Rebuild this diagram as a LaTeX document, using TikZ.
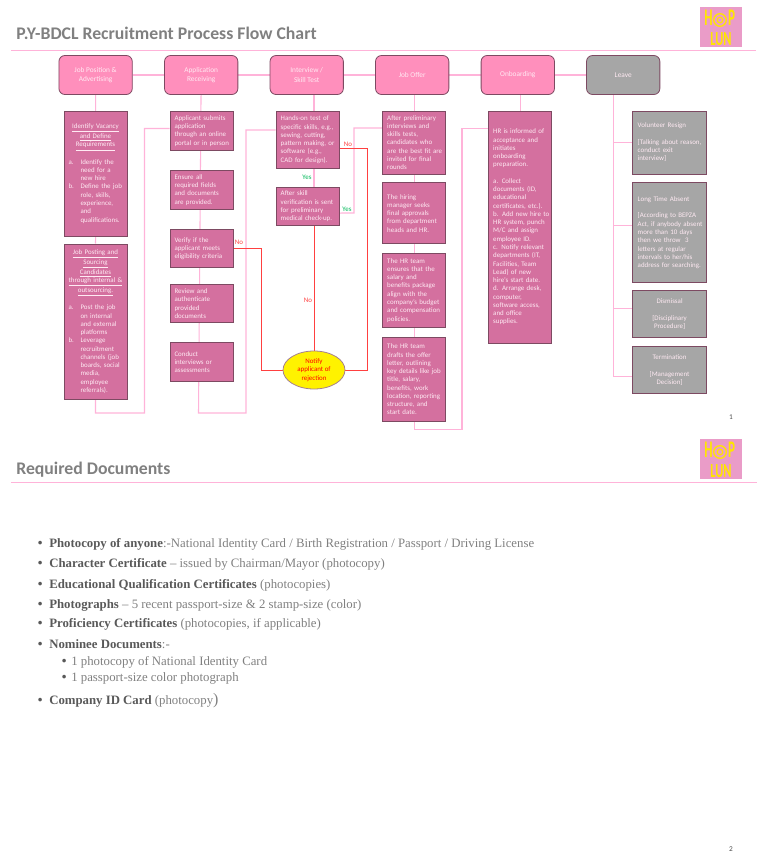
\documentclass[tikz,border=0pt]{standalone}
\usepackage{fontspec}
\setmainfont{Carlito}
\newfontfamily\listfont{Liberation Serif}
\usetikzlibrary{backgrounds,shapes.geometric}
\definecolor{headpink}{HTML}{FF8FBC}
\definecolor{steppink}{HTML}{D4709F}
\definecolor{edgeplum}{HTML}{7D4A62}
\definecolor{linkpink}{HTML}{FFB3D9}
\definecolor{noRed}{HTML}{FF4040}
\definecolor{yesGreen}{HTML}{00B858}
\definecolor{paletext}{HTML}{FFEAF3}
\definecolor{leavegray}{HTML}{A6A6A6}
\definecolor{titlegray}{HTML}{808080}
\definecolor{logopink}{HTML}{EA9CC8}
\definecolor{logoyellow}{HTML}{FFE600}
\newcommand{\headln}[1]{\makebox[40.4pt][c]{\underline{#1}}}
\newcommand{\itemln}[2]{\makebox[9pt][l]{#1}#2}
\newcommand{\boldpart}[1]{\textcolor{black!65}{\textbf{#1}}}

\begin{document}
\begin{tikzpicture}[x=0.75pt,y=-0.75pt]
  \tikzstyle{headbox}=[rectangle, draw=edgeplum, line width=0.6pt, rounded corners=4.5pt, fill=headpink, minimum width=55pt, minimum height=29.25pt, text=paletext, align=center, font=\fontsize{5.5}{6.9}\selectfont]
  \tikzstyle{stepbox}=[rectangle, draw=edgeplum, line width=0.7pt, fill=steppink, minimum width=47.25pt, inner xsep=3.4pt, inner ysep=0pt, text width=40.45pt, text=paletext, font=\fontsize{5.2}{6.2}\selectfont, execute at begin node={\rightskip=-9pt plus 1fil \hyphenpenalty=10000 \parindent=0pt}]
  \tikzstyle{leavebox}=[stepbox, fill=leavegray, minimum width=55.3pt, inner xsep=3.75pt, text width=47.8pt]
  \tikzstyle{link}=[draw=linkpink, line width=0.8pt]
  \tikzstyle{reject}=[draw=noRed, line width=0.7pt]
  \tikzstyle{tag}=[inner sep=0pt, font=\fontsize{5.2}{6.2}\selectfont]
  \tikzstyle{pagetitle}=[anchor=west, inner sep=0pt, text=titlegray, font=\fontsize{13.3}{16}\selectfont\bfseries]
  \tikzstyle{docline}=[anchor=base west, inner sep=0pt, text=black!50, font=\fontsize{9.6}{11}\selectfont\listfont]
  \tikzstyle{pageno}=[inner sep=0pt, text=black!70, font=\fontsize{5.5}{6}\selectfont]
  \tikzstyle{logoglyph}=[inner sep=0pt, text=logoyellow, transform shape, font=\fontsize{17}{18}\selectfont\bfseries]
  \tikzset{hoplogo/.pic={
    \fill[logopink] (0,0) rectangle (42,40);
    \node[logoglyph, xscale=0.58, yscale=1.05] (logoH) at (8.5,11) {H};
    \draw[logoyellow, line width=1pt] (20,13) circle (6.3);
    \draw[logoyellow, line width=0.9pt] (20,13) circle (2.8);
    \node[logoglyph, xscale=0.58, yscale=1.05] (logoP) at (31.5,11) {P};
    \node[logoglyph, xscale=0.62, font=\fontsize{15}{16}\selectfont\bfseries] (logoL) at (21,32) {LUN};
  }}
  \useasboundingbox (0,0) rectangle (768,864);

  % first page head
  \node[pagetitle] (flowtitle) at (16,33) {P.Y-BDCL Recruitment Process Flow Chart};
  \coordinate (ruleA) at (11,50.5);
  \coordinate (ruleB) at (756,50.5);
  \draw[link] (ruleA) -- (ruleB);
  \pic at (700,7) {hoplogo};

  % process heads
  \node[headbox] (jobpos) at (95.6,75) {Job Position \&\\Advertising};
  \node[headbox] (apprecv) at (201.2,75) {Application\\Receiving};
  \node[headbox] (interview) at (306.7,75) {Interview /\\Skill Test};
  \node[headbox] (joboffer) at (412.2,75) {Job Offer};
  \node[headbox] (onboarding) at (517.8,75) {Onboarding};
  \node[headbox, fill=leavegray] (leave) at (623.2,75) {Leave};

  % job position column
  \node[stepbox, minimum height=93.75pt] (vacancy) at (95.5,173.5) {\headln{Identify Vacancy}\\\headln{and Define}\\\headln{Requirements}\\[5.5pt]
    \itemln{a.}{Identify the}\\\itemln{}{need for a}\\\itemln{}{new hire}\\\itemln{b.}{Define the job}\\\itemln{}{role, skills,}\\\itemln{}{experience,}\\\itemln{}{and}\\\itemln{}{qualifications.}};
  \node[stepbox, minimum height=116.25pt] (posting) at (95.5,321.5) {\headln{Job Posting and}\\\headln{Sourcing}\\\headln{Candidates}\\\headln{through internal \&}\\\headln{outsourcing.}\\[5.5pt]
    \itemln{a.}{Post the job}\\\itemln{}{on internal}\\\itemln{}{and external}\\\itemln{}{platforms}\\\itemln{b.}{Leverage}\\\itemln{}{recruitment}\\\itemln{}{channels (job}\\\itemln{}{boards, social}\\\itemln{}{media,}\\\itemln{}{employee}\\\itemln{}{referrals).}};

  % application column
  \node[stepbox, minimum height=29.6pt] (submit) at (201.5,130.75) {Applicant submits\\application\\through an online\\portal or in person};
  \node[stepbox, minimum height=29.25pt] (fields) at (201.5,190) {Ensure all\\required fields\\and documents\\are provided.};
  \node[stepbox, minimum height=28.5pt] (verify) at (201.5,248.5) {Verify if the\\applicant meets\\eligibility criteria};
  \node[stepbox, minimum height=28.5pt] (review) at (201.5,303.5) {Review and\\authenticate\\provided\\documents};
  \node[stepbox, minimum height=29.25pt] (conduct) at (201.5,362) {Conduct\\interviews or\\assessments};

  % interview column
  \node[stepbox, minimum height=43.1pt] (handson) at (307.7,139.75) {Hands-on test of\\specific skills, e.g.,\\sewing, cutting,\\pattern making, or\\software (e.g.,\\CAD for design).};
  \node[stepbox, minimum height=28.5pt] (medical) at (307.7,206.5) {After skill\\verification is sent\\for preliminary\\medical check-up.};
  \node[ellipse, draw=edgeplum!70, line width=0.6pt, fill=yellow, minimum width=46.5pt, minimum height=28.5pt, inner sep=0pt, text=red, align=center, font=\fontsize{5.2}{6.4}\selectfont] (rejection) at (314,370) {Notify\\applicant of\\rejection};

  % offer column
  \node[stepbox, minimum height=47.25pt] (finalists) at (414.2,142.5) {After preliminary\\interviews and\\skills tests,\\candidates who\\are the best fit are\\invited for final\\rounds};
  \node[stepbox, minimum height=45.75pt] (approvals) at (414.2,213.2) {The hiring\\manager seeks\\final approvals\\from department\\heads and HR.};
  \node[stepbox, minimum height=55.9pt] (salary) at (414.2,290.25) {The HR team\\ensures that the\\salary and\\benefits package\\align with the\\company's budget\\and compensation\\policies.};
  \node[stepbox, minimum height=62.7pt] (draft) at (414.2,379.5) {The HR team\\drafts the offer\\letter, outlining\\key details like job\\title, salary,\\benefits, work\\location, reporting\\structure, and\\start date.};

  % onboarding column
  \node[stepbox, minimum height=174pt] (hrinformed) at (520.2,227) {HR is informed of\\acceptance and\\initiates\\onboarding\\preparation.\\[6.2pt]
    a. Collect\\documents (ID,\\educational\\certificates, etc.).\\b. Add new hire to\\HR system, punch\\M/C and assign\\employee ID.\\c. Notify relevant\\departments (IT,\\Facilities, Team\\Lead) of new\\hire's start date.\\d. Arrange desk,\\computer,\\software access,\\and office\\supplies.};

  % leave column
  \node[leavebox, minimum height=47.25pt] (resign) at (669.6,142.5) {Volunteer Resign\\[6.2pt]{[}Talking about reason,\\conduct exit\\interview]};
  \node[leavebox, minimum height=75pt] (absent) at (669.6,232.7) {Long Time Absent\\[6.2pt]{[}According to BEPZA\\Act, if anybody absent\\more than 10 days\\then we throw~~3\\letters at regular\\intervals to her/his\\address for searching.};
  \node[leavebox, minimum height=35.25pt, execute at begin node={\rightskip=0pt plus 1fil \leftskip=0pt plus 1fil \parfillskip=0pt}] (dismissal) at (669.6,314.2) {Dismissal\\[6.2pt]{[}Disciplinary\\Procedure]};
  \node[leavebox, minimum height=35.25pt, execute at begin node={\rightskip=0pt plus 1fil \leftskip=0pt plus 1fil \parfillskip=0pt}] (termination) at (669.6,370.2) {Termination\\[6.2pt]{[}Management\\Decision]};

  % turning points
  \coordinate (jobturn) at (144.5,413);
  \coordinate (appbase) at (198.5,413);
  \coordinate (appturn) at (246,413);
  \coordinate (yesturn) at (354,213);
  \coordinate (offerturn) at (462,429.5);
  \coordinate (leavestem) at (613.7,94);
  \coordinate (rejleft) at (261,370);
  \coordinate (rejright) at (367,370);

  \begin{scope}[on background layer]
    \draw[link] (jobpos) -- (apprecv) -- (interview) -- (joboffer) -- (onboarding) -- (leave);
    \draw[link] (jobpos) -- (posting) -- (posting |- jobturn) -- (jobturn) |- ([yshift=1.7pt]submit.west);
    \draw[link] (apprecv) -- (appbase) -- (appturn) |- ([yshift=7.3pt]handson.west);
    \draw[link] (rejection |- interview.south) -- (rejection |- medical.north);
    \draw[link] ([yshift=-4.9pt]medical.east) -- (yesturn) |- ([yshift=10.9pt]finalists.west);
    \draw[link] (finalists |- joboffer.south) -- (draft) -- (draft |- offerturn) -- (offerturn) |- ([yshift=73.9pt]hrinformed.west);
    \draw[link] (hrinformed |- onboarding.south) -- (hrinformed);
    \draw[link] (leavestem) |- ([yshift=-4.4pt]termination.west);
    \draw[link] (leavestem) |- (resign.west);
    \draw[link] (leavestem) |- ([yshift=5.6pt]absent.west);
    \draw[link] (leavestem) |- ([yshift=4.6pt]dismissal.west);
    \draw[reject] (verify.east) -| (rejleft) -- (rejection.west);
    \draw[reject] ([yshift=-6.9pt]handson.east) -| (rejright) -- (rejection.east);
    \draw[reject] (rejection |- medical.south) -- (rejection.north);
  \end{scope}

  % branch labels
  \node[tag, text=noRed] (noverify) at (239,242) {No};
  \node[tag, text=noRed] (nohands) at (348,144) {No};
  \node[tag, text=noRed] (nomedical) at (308,300) {No};
  \node[tag, text=yesGreen] (yeshands) at (307,177) {Yes};
  \node[tag, text=yesGreen] (yesmedical) at (347,209.5) {Yes};
  \node[pageno] (pageone) at (731,417) {1};

  % second page
  \node[pagetitle] (docstitle) at (16,469.5) {Required Documents};
  \coordinate (ruleC) at (11,482.3);
  \coordinate (ruleD) at (757,482.3);
  \draw[link] (ruleC) -- (ruleD);
  \pic at (700,439) {hoplogo};

  \foreach \bx/\by in {37.5/547,37.5/567.5,37.5/588,37.5/608,37.5/627.5,37.5/648,61.5/665,61.5/681.5,37.5/704}
    \node[docline, text=black!65, font=\fontsize{10}{11}\selectfont\listfont\bfseries] (bullet\by) at (\bx,\by) {•};
  \node[docline] (docone) at (49,547) {\boldpart{Photocopy of anyone}:-National Identity Card / Birth Registration / Passport / Driving License};
  \node[docline] (doctwo) at (49,567.5) {\boldpart{Character Certificate} – issued by Chairman/Mayor (photocopy)};
  \node[docline] (docthree) at (49,588) {\boldpart{Educational Qualification Certificates} (photocopies)};
  \node[docline] (docfour) at (49,608) {\boldpart{Photographs} – 5 recent passport-size \& 2 stamp-size (color)};
  \node[docline] (docfive) at (49,627.5) {\boldpart{Proficiency Certificates} (photocopies, if applicable)};
  \node[docline] (docsix) at (49,648) {\boldpart{Nominee Documents}:-};
  \node[docline] (docsixa) at (71,665) {1 photocopy of National Identity Card};
  \node[docline] (docsixb) at (71,681.5) {1 passport-size color photograph};
  \node[docline] (docseven) at (49,704) {\boldpart{Company ID Card} (photocopy{\fontsize{12}{12}\selectfont)}};
  \node[pageno] (pagetwo) at (731,849) {2};
\end{tikzpicture}
\end{document}
